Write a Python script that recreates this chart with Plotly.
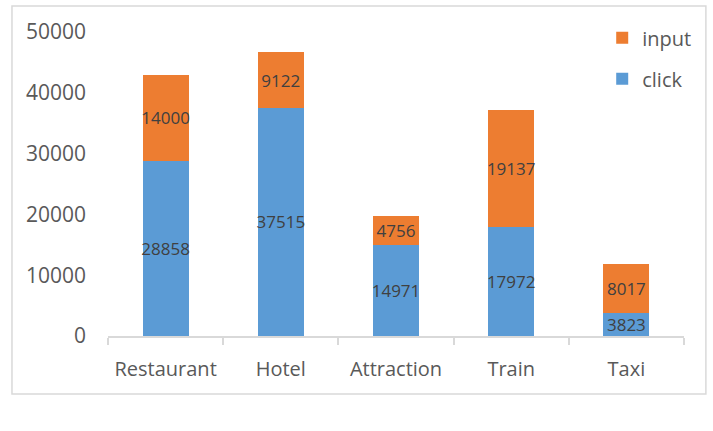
import plotly.graph_objects as go

categories = ["Restaurant", "Hotel", "Attraction", "Train", "Taxi"]
click = [28858, 37515, 14971, 17972, 3823]
inputs = [14000, 9122, 4756, 19137, 8017]
y_ticks = [0, 10000, 20000, 30000, 40000, 50000]
y_tick_labels = ["0", "10000", "20000", "30000", "40000", "50000"]

font_name = "Open Sans"
axis_grey = "#D9D9D9"
text_grey = "#595959"

fig = go.Figure()

# click segment (bottom)
fig.add_trace(go.Bar(
    x=categories, y=click, name="click", legendgroup="click", legendrank=2,
    marker=dict(color="#5B9BD5", line=dict(width=0)),
    text=click, texttemplate="%{text}", textposition="inside",
    insidetextanchor="middle", constraintext="none", textangle=0,
    textfont=dict(family=font_name, size=17, color="#404040"),
))

# input segment (top)
fig.add_trace(go.Bar(
    x=categories, y=inputs, name="input", legendgroup="input", legendrank=1,
    marker=dict(color="#ED7D31", line=dict(width=0)),
    text=inputs, texttemplate="%{text}", textposition="inside",
    insidetextanchor="middle", constraintext="none", textangle=0,
    textfont=dict(family=font_name, size=17, color="#404040"),
))

# outer frame around the chart
fig.add_shape(type="rect", xref="paper", yref="paper",
              x0=-0.1667, x1=1.038, y0=-0.1908, y1=1.0855,
              line=dict(color=axis_grey, width=1.5), layer="below")

fig.update_layout(
    width=713, height=431,
    margin=dict(l=108, r=29, t=32, b=95, autoexpand=False),
    barmode="stack", bargap=0.6,
    plot_bgcolor="white", paper_bgcolor="white",
    font=dict(family=font_name, color=text_grey),
    showlegend=True,
    legend=dict(
        x=0.858, y=1.045, xanchor="left", yanchor="top",
        traceorder="grouped", tracegroupgap=12,
        font=dict(size=20, color=text_grey),
        itemwidth=30, bgcolor="rgba(0,0,0,0)",
    ),
    xaxis=dict(
        showline=True, linecolor=axis_grey, linewidth=1.5,
        ticks="outside", tickson="boundaries", ticklen=7,
        tickcolor=axis_grey, tickwidth=1.5,
        tickfont=dict(size=20, color=text_grey),
        ticklabelstandoff=14, automargin=False,
    ),
    yaxis=dict(
        range=[0, 50000], tickvals=y_ticks, ticktext=y_tick_labels,
        showgrid=False, showline=False, zeroline=False,
        tickfont=dict(size=21, color=text_grey),
        ticklabelstandoff=21, automargin=False,
    ),
)

fig.write_html("out.html", config={"displayModeBar": False},
               post_script="document.body.style.margin='0';")
